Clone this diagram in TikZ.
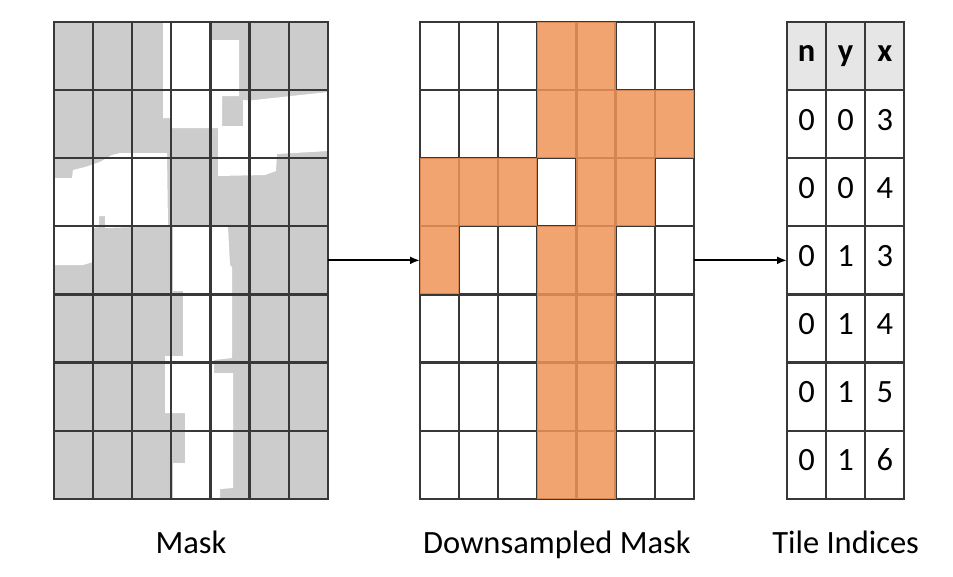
\documentclass[tikz,border=0pt]{standalone}
\usepackage{fontspec}
\setmainfont{Carlito}
\usetikzlibrary{arrows.meta}
\definecolor{maskgray}{RGB}{204,204,204}
\definecolor{tileorange}{RGB}{240,148,87}
\definecolor{headgray}{RGB}{231,230,230}
\begin{document}
\begin{tikzpicture}[x=1pt,y=-1pt,inner sep=0pt,outer sep=0pt,
font=\fontsize{32.5}{38}\selectfont,
gridline/.style={draw=black!78,line width=2.2pt,line cap=rect},
tilecell/.style={fill=tileorange,fill opacity=0.85},
panel/.style={minimum width=273.7pt,minimum height=476.7pt},
flow/.style={-{Latex[length=10pt,width=8pt]},line width=2pt}]
\useasboundingbox (0,0) rectangle (953,576);
\node[panel] (mask) at (190.85,260.35) {};
\node[panel] (down) at (556.85,260.35) {};
\node[panel,minimum width=117.3pt] (tiles) at (845.65,260.35) {};
\fill[maskgray] (mask.north west) rectangle (mask.south east);
\fill[white] (163,22) -- (211,22) -- (211,40) -- (239,40) -- (239,96) -- (222,96) -- (222,126) -- (243,126) -- (243,100) -- (250,100.5) -- (328,92) -- (328,151) -- (277,154) -- (276,171) -- (265,175) -- (218,176) -- (218,128) -- (171,128) -- (171,118) -- (163,118) -- cycle;
\fill[white] (54,178) -- (72,178) -- (73,170) -- (85,167) -- (100,162) -- (112,155) -- (120,153) -- (167,153) -- (168,226) -- (105,228) -- (105,216) -- (99,216) -- (99,227) -- (93,228) -- (93,262) -- (83,265) -- (54,265) -- cycle;
\fill[white] (173,227) -- (228,227) -- (230,265) -- (232,267) -- (232,358) -- (214,360) -- (214,373) -- (233,373) -- (233,488) -- (220,489) -- (220,499) -- (173,499) -- (173,463) -- (185,463) -- (185,413) -- (165,413) -- (165,356) -- (183,356) -- (183,291) -- (173,291) -- cycle;
\fill[headgray] (tiles.north west) rectangle ++(117.3,68.1);
\foreach \ox/\nc in {54/7,420/7,787/3} {
  \foreach \i in {0,...,\nc} \draw[gridline] ({\ox+\i*39.1},22) -- ++(0,476.7);
  \foreach \j in {0,...,7} \draw[gridline] (\ox,{22+\j*68.1}) -- ++({\nc*39.1},0);
}
\foreach \c/\r in {3/0,4/0,3/1,4/1,5/1,6/1,0/2,1/2,2/2,4/2,5/2,0/3,3/3,4/3,3/4,4/4,3/5,4/5,3/6,4/6}
  \fill[tilecell] ({420+\c*39.1},{22+\r*68.1}) rectangle ++(39.1,68.1);
\foreach \h [count=\k from 0] in {n,y,x}
  \node[anchor=base,font=\fontsize{32.5}{38}\selectfont\bfseries] (head\h) at ({806.55+\k*39.1},61) {\h};
\foreach \n/\yy/\xx [count=\r] in {0/0/3,0/0/4,0/1/3,0/1/4,0/1/5,0/1/6} {
  \node[anchor=base] (n\r) at (806.55,{62+\r*68.1}) {\n};
  \node[anchor=base] (y\r) at (845.65,{62+\r*68.1}) {\yy};
  \node[anchor=base] (x\r) at (884.75,{62+\r*68.1}) {\xx};
}
\draw[flow] (mask) -- (down);
\draw[flow] (down) -- (tiles);
\node[anchor=base] (masktext) at (191,553) {Mask};
\node[anchor=base] (downtext) at (557,553) {Downsampled Mask};
\node[anchor=base] (tilestext) at (845.65,553) {Tile Indices};
\end{tikzpicture}
\end{document}
